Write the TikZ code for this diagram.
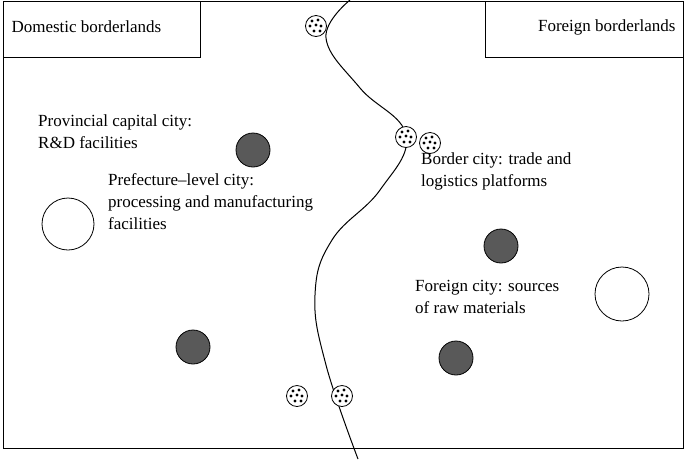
\documentclass[tikz,border=0pt]{standalone}
\usepackage{fontspec}
\setmainfont{Liberation Serif}
\begin{document}
\begin{tikzpicture}[x=1pt,y=-1pt,
 lbl/.style={anchor=north west,align=left,font=\fontsize{17}{22}\selectfont,inner sep=0pt},
 dark/.style={circle,draw=black,fill=black!65,minimum size=34pt,inner sep=0pt,line width=0.8pt},
 white/.style={circle,draw=black,fill=white,minimum size=52pt,inner sep=0pt,line width=0.8pt},
 port/.style={circle,draw=black,fill=white,minimum size=21pt,inner sep=0pt,line width=0.8pt}]
\useasboundingbox (0,0) rectangle (685,459);
\draw[line width=0.8pt] (3,1) rectangle (683,448);
\node[draw,line width=0.8pt,minimum width=197pt,minimum height=56pt,anchor=north west,inner sep=0pt] (dom) at (3,1) {};
\node[anchor=west,font=\fontsize{17}{18}\selectfont] (domt) at (8,27) {Domestic borderlands};
\node[draw,line width=0.8pt,minimum width=198pt,minimum height=56pt,anchor=north west,inner sep=0pt] (for) at (485,1) {};
\node[anchor=east,font=\fontsize{17}{18}\selectfont] (fort) at (679,27) {Foreign borderlands};
\draw[line width=1pt] plot[smooth,tension=0.7] coordinates {(350,0) (326,38) (360,88) (406,135) (380,190) (332,240) (315,295) (326,365) (358,459)};
\node[port] (p1) at (316,26) {};
\node[port] (p2) at (406,137) {};
\node[port] (p3) at (430,143) {};
\node[port] (p4) at (297,396) {};
\node[port] (p5) at (342,396) {};
\foreach \p in {p1,p2,p3,p4,p5}{
  \foreach \dx/\dy in {-4/-5,2/-6,-6/0,0/-1,5/0,-2/5,4/5}{
    \fill ([shift={(\dx,\dy)}]\p.center) circle (1.6pt);}}
\node[dark] (d1) at (253,150) {};
\node[dark] (d2) at (501,246) {};
\node[dark] (d3) at (193,347) {};
\node[dark] (d4) at (456,358) {};
\node[white] (w1) at (68,224) {};
\node[white,minimum size=54pt] (w2) at (622,294) {};
\node[lbl] (t1) at (38,114) {Provincial capital city:\\R\&D facilities};
\node[lbl] (t2) at (108,173) {Prefecture–level city:\\processing and manufacturing\\facilities};
\node[lbl] (t3) at (421,152) {Border city: trade and\\logistics platforms};
\node[lbl] (t4) at (415,280) {Foreign city: sources\\of raw materials};
\end{tikzpicture}
\end{document}
